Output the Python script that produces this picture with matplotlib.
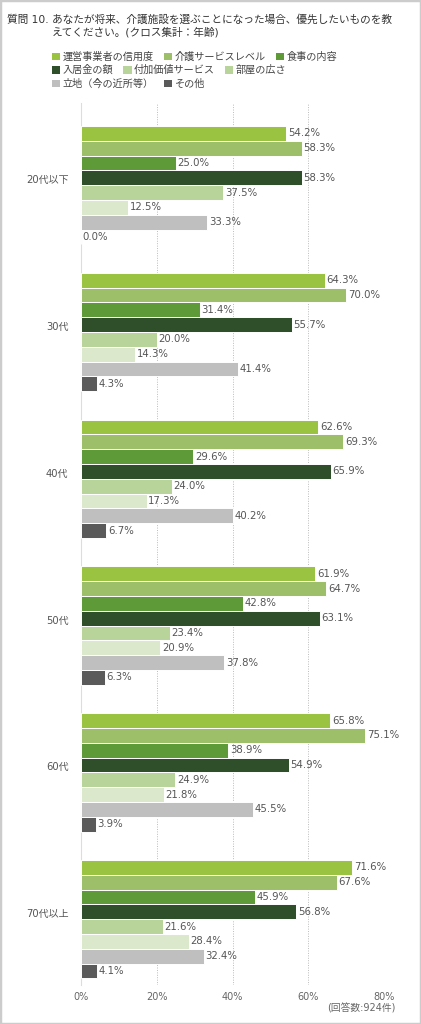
import matplotlib
matplotlib.use('Agg')
import matplotlib.pyplot as plt
from matplotlib.patches import Patch, Rectangle

plt.rcParams['font.family'] = ['DejaVu Sans', 'Noto Sans CJK JP']

categories = ['20代以下', '30代', '40代', '50代', '60代', '70代以上']
series_names = ['運営事業者の信用度', '介護サービスレベル', '食事の内容', '入居金の額',
                '付加価値サービス', '部屋の広さ', '立地（今の近所等）', 'その他']
vals_20s_under = [54.2, 58.3, 25.0, 58.3, 37.5, 12.5, 33.3, 0.0]
vals_30s = [64.3, 70.0, 31.4, 55.7, 20.0, 14.3, 41.4, 4.3]
vals_40s = [62.6, 69.3, 29.6, 65.9, 24.0, 17.3, 40.2, 6.7]
vals_50s = [61.9, 64.7, 42.8, 63.1, 23.4, 20.9, 37.8, 6.3]
vals_60s = [65.8, 75.1, 38.9, 54.9, 24.9, 21.8, 45.5, 3.9]
vals_70s_over = [71.6, 67.6, 45.9, 56.8, 21.6, 28.4, 32.4, 4.1]
group_values = [vals_20s_under, vals_30s, vals_40s, vals_50s, vals_60s, vals_70s_over]

bar_colors = ['#99c341', '#9dbf6a', '#5e9a38', '#2f4f2b',
              '#b9d49b', '#dbe8cc', '#bfbfbf', '#5a5a5a']
legend_colors = ['#99c341', '#9dbf6a', '#5e9a38', '#2f4f2b',
                 '#b9d49b', '#b9d49b', '#bfbfbf', '#5a5a5a']
legend_rows = [[0, 1, 2], [3, 4, 5], [6, 7]]
x_ticks = [0, 20, 40, 60, 80]
x_tick_labels = ['0%', '20%', '40%', '60%', '80%']

W, H = 421, 1024
fig = plt.figure(figsize=(W / 100, H / 100), dpi=100)
ax = fig.add_axes([81 / W, 1 - 985 / H, (384 - 81) / W, (985 - 103) / H])

slot_px = 14.8
group_step = 146.8 / slot_px
n = len(series_names)

for g, vals in enumerate(group_values):
    for i, v in enumerate(vals):
        y = g * group_step + i
        ax.barh(y, v, height=1.0, color=bar_colors[i], edgecolor='white', linewidth=0.7, zorder=3)
        ax.text(v + 0.45, y, f'{v:.1f}%', va='center', ha='left', fontsize=7.3,
                color='#555555', zorder=4)

top_y = -0.5 - (126 - 103) / slot_px
bot_y = -0.5 + (985 - 126) / slot_px
ax.set_ylim(bot_y, top_y)
ax.set_xlim(0, 80)

ax.set_yticks([g * group_step + (n - 1) / 2 - 0.4 for g in range(len(categories))])
ax.set_yticklabels(categories, fontsize=7.2, color='#555555')
ax.set_xticks(x_ticks)
ax.set_xticklabels(x_tick_labels, fontsize=7.0, color='#666666')
ax.tick_params(axis='both', length=0)
ax.tick_params(axis='y', pad=9)
ax.tick_params(axis='x', pad=5)

for s in ['top', 'right', 'bottom']:
    ax.spines[s].set_visible(False)
ax.spines['left'].set_color('#dddddd')
ax.spines['left'].set_linewidth(0.8)
ax.xaxis.grid(True, linestyle=(0, (1, 1.5)), color='#bbbbbb', linewidth=0.7, zorder=0)
ax.set_axisbelow(True)

fig.text(395 / W, 1 - 1008 / H, '(回答数:924件)', ha='right', va='center',
         fontsize=7.0, color='#666666')

fig.text(7 / W, 1 - 19 / H, '質問 10. あなたが将来、介護施設を選ぶことになった場合、優先したいものを教',
         ha='left', va='center', fontsize=7.7, color='#333333')
fig.text(52 / W, 1 - 32 / H, 'えてください。(クロス集計：年齢)',
         ha='left', va='center', fontsize=7.7, color='#333333')

row_centers = [57, 70, 84]
for r, idxs in enumerate(legend_rows):
    handles = [Patch(facecolor=legend_colors[k], edgecolor='none', label=series_names[k]) for k in idxs]
    leg = fig.legend(handles=handles, loc='center left',
                     bbox_to_anchor=(52 / W, 1 - row_centers[r] / H),
                     ncol=len(idxs), frameon=False, fontsize=7.3,
                     handlelength=0.8, handleheight=0.8, handletextpad=0.25,
                     columnspacing=1.0, borderpad=0, borderaxespad=0)
    for t in leg.get_texts():
        t.set_color('#444444')

fig.add_artist(Rectangle((0, 0), 1, 1, transform=fig.transFigure, fill=False,
                         edgecolor='#cccccc', linewidth=2.5))

fig.savefig('out.png', dpi=100)
